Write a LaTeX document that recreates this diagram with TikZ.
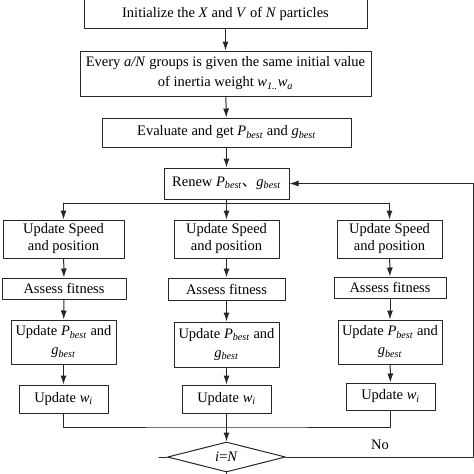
\documentclass[tikz,border=0pt]{standalone}
\usepackage{fontspec}
\setmainfont{Liberation Serif}
\newfontfamily\cjk{Noto Sans CJK SC}
\usetikzlibrary{shapes.geometric,arrows.meta}

\newcommand*{\isub}[2]{\textit{#1}\textsubscript{\textit{#2}}}

\begin{document}
\begin{tikzpicture}[x=1pt,y=-1pt,line cap=round,line join=round,
    every node/.style={font=\fontsize{14.5}{17}\selectfont},
    box/.style={draw=black!85,line width=1pt,align=center,inner sep=0pt},
    link/.style={draw=black!85,line width=1pt},
    tip/.style={-{Latex[length=9pt,width=6pt]}},
    test/.style={draw=black!85,line width=1pt,diamond,aspect=3.9,inner sep=0pt,
        minimum width=118pt,minimum height=30pt}]
    \useasboundingbox (0,0) rectangle (474,474);
    % main chain
    \node[box,minimum width=283pt,minimum height=30pt] (init) at (225.5,13.5) {Initialize the \textit{X} and \textit{V} of \textit{N} particles};
    \node[box,minimum width=291pt,minimum height=45pt,font=\fontsize{14.5}{20}\selectfont] (every) at (225.5,73.5)
        {Every \textit{a/N} groups is given the same initial value\\ of inertia weight \isub{w}{1..}\isub{w}{a}};
    \node[box,minimum width=249pt,minimum height=29pt] (eval) at (226.5,132.5) {Evaluate and get \isub{P}{best} and \isub{g}{best}};
    \node[box,minimum width=125pt,minimum height=31pt] (renew) at (226.5,183.5) {Renew \isub{P}{best}{\cjk 、}\isub{g}{best}};
    \draw[link,tip] (init) -- (every);
    \draw[link,tip] (every) -- (eval);
    \draw[link,tip] (eval) -- (renew);
    % three branches
    \node[box,minimum width=121pt,minimum height=38pt] (speed1) at (63.5,239) {Update Speed\\ and position};
    \node[box,minimum width=105pt,minimum height=38pt] (speed2) at (226.5,239) {Update Speed\\ and position};
    \node[box,minimum width=105pt,minimum height=38pt] (speed3) at (389.5,239) {Update Speed\\ and position};
    \node[box,minimum width=124pt,minimum height=21pt] (assess1) at (64,288.5) {Assess fitness};
    \node[box,minimum width=117pt,minimum height=22pt] (assess2) at (226.5,289) {Assess fitness};
    \node[box,minimum width=112pt,minimum height=21pt] (assess3) at (390,287.5) {Assess fitness};
    \node[box,minimum width=105pt,minimum height=44pt,font=\fontsize{14.5}{19}\selectfont] (best1) at (63.5,342) {Update \isub{P}{best} and\\ \isub{g}{best}};
    \node[box,minimum width=105pt,minimum height=45pt,font=\fontsize{14.5}{19}\selectfont] (best2) at (226.5,344.5) {Update \isub{P}{best} and\\ \isub{g}{best}};
    \node[box,minimum width=104pt,minimum height=44pt,font=\fontsize{14.5}{19}\selectfont] (best3) at (390,342) {Update \isub{P}{best} and\\ \isub{g}{best}};
    \node[box,minimum width=89pt,minimum height=28pt] (weight1) at (63.5,399) {Update \isub{w}{i}};
    \node[box,minimum width=89pt,minimum height=28pt] (weight2) at (226.5,399) {Update \isub{w}{i}};
    \node[box,minimum width=89pt,minimum height=27pt] (weight3) at (390.5,396.5) {Update \isub{w}{i}};
    \coordinate (bus) at (226.5,203);
    \draw[link] (speed1 |- bus) -- (speed3 |- bus);
    \draw[link,tip] (renew) -- (speed2);
    \draw[link,tip] (speed1 |- bus) -- (speed1);
    \draw[link,tip] (speed3 |- bus) -- (speed3);
    \foreach \i in {1,2,3} {
        \draw[link,tip] (speed\i) -- (assess\i);
        \draw[link,tip] (assess\i) -- (best\i);
        \draw[link,tip] (best\i) -- (weight\i);
    }
    % merge and test
    \node[test] (check) at (226.5,457) {\textit{i}=\textit{N}};
    \coordinate (join) at (226.5,427);
    \draw[link] (weight1) |- (join) -| (weight3);
    \draw[link,tip] (weight2) -- (check);
    \draw[link] (check.west) -- ++(-8,0);
    \draw[link] (check.south) -- ++(0,6);
    \coordinate (corner) at (473,183.5);
    \draw[link,tip] (check.east) -| (corner) -- (renew.east);
    \node (no) at (380,445) {No};
\end{tikzpicture}
\end{document}
